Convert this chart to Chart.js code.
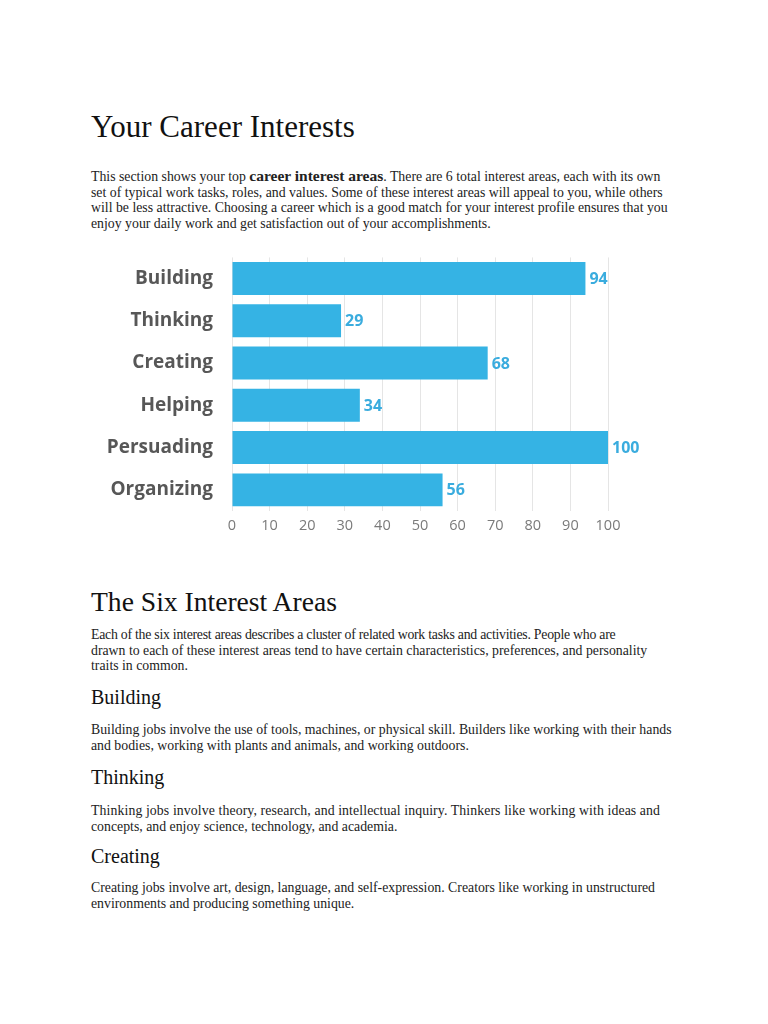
<!DOCTYPE html>
<html>
<head>
<meta charset="utf-8">
<script src="https://cdn.jsdelivr.net/npm/chart.js@4/dist/chart.umd.min.js"></script>
<style>
  body { margin: 0; background: #fff; width: 768px; height: 1024px; position: relative; overflow: hidden; }
  .t { position: absolute; left: 91px; font-family: "Liberation Serif", "Times New Roman", serif; color: #111; white-space: nowrap; }
  .h1 { font-size: 31px; line-height: 34px; }
  .h1.s { font-size: 27.6px; }
  .h2 { font-size: 20px; line-height: 24px; }
  .p { font-size: 13.8px; line-height: 15.6px; color: #222; }
  .p b { font-size: 15.5px; }
  #wrap { position: absolute; left: 100px; top: 235px; width: 560px; height: 310px; }
</style>
</head>
<body>
<div class="t h1" style="top:110px">Your Career Interests</div>
<div class="t p" style="top:168px">This section shows your top <b>career interest areas</b>. There are 6 total interest areas, each with its own<br>set of typical work tasks, roles, and values. Some of these interest areas will appeal to you, while others<br>will be less attractive. Choosing a career which is a good match for your interest profile ensures that you<br>enjoy your daily work and get satisfaction out of your accomplishments.</div>

<div id="wrap"><canvas id="myChart"></canvas></div>

<div class="t h1 s" style="top:585px">The Six Interest Areas</div>
<div class="t p" style="top:627px"><span style="letter-spacing:-0.25px">Each of the six interest areas describes a cluster of related work tasks and activities. People who are</span><br>drawn to each of these interest areas tend to have certain characteristics, preferences, and personality<br>traits in common.</div>
<div class="t h2" style="top:685px">Building</div>
<div class="t p" style="top:722px">Building jobs involve the use of tools, machines, or physical skill. Builders like working with their hands<br>and bodies, working with plants and animals, and working outdoors.</div>
<div class="t h2" style="top:765px">Thinking</div>
<div class="t p" style="top:803px"><span style="letter-spacing:0.1px">Thinking jobs involve theory, research, and intellectual inquiry. Thinkers like working with ideas and</span><br>concepts, and enjoy science, technology, and academia.</div>
<div class="t h2" style="top:844px">Creating</div>
<div class="t p" style="top:880px">Creating jobs involve art, design, language, and self-expression. Creators like working in unstructured<br>environments and producing something unique.</div>

<script>
const ctx = document.getElementById("myChart").getContext('2d')

const labels = ["Building", "Thinking", "Creating", "Helping", "Persuading", "Organizing"]
const scores = [94, 29, 68, 34, 100, 56]
const xTicks = [0, 10, 20, 30, 40, 50, 60, 70, 80, 90, 100]

const barBlue = 'rgb(53, 179, 228)'

const data = {
    labels,
    datasets: [{
        data: scores,
        backgroundColor: barBlue,
        borderWidth: 0,
        barPercentage: 0.78,
        categoryPercentage: 1
    }]
}

// writes the score just past the end of each bar
const valueLabels = {
    id: 'value_labels',
    afterDatasetsDraw: (chart) => {
        const c = chart.ctx
        const meta = chart.getDatasetMeta(0)
        c.save()
        c.fillStyle = 'rgb(58, 172, 222)'
        c.font = 'bold 16px "Open Sans"'
        c.textBaseline = 'middle'
        meta.data.forEach((bar, i) => {
            c.fillText(scores[i], bar.x + 4, bar.y + 1)
        })
        c.restore()
    }
}

const option = {
    responsive: true,
    maintainAspectRatio: false,
    animation: false,
    indexAxis: 'y',
    layout: { padding: { top: 12, right: 52, bottom: 4, left: 0 } },
    plugins: {
        legend: { display: false },
        tooltip: { enabled: false }
    },
    scales: {
        x: {
            min: 0,
            max: 100,
            afterBuildTicks: (axis) => { axis.ticks = xTicks.map(v => ({ value: v })) },
            afterFit: (axis) => { axis.height = 30 },
            border: { display: false },
            grid: {
                color: 'rgba(0, 0, 0, 0.1)',
                drawTicks: false
            },
            ticks: {
                color: '#7a7a7a',
                padding: 6,
                font: { family: 'Open Sans', size: 14.5 }
            }
        },
        y: {
            afterFit: (axis) => { axis.width = 132 },
            border: { display: false },
            grid: { display: false },
            ticks: {
                color: '#575757',
                padding: 11,
                font: { family: 'Open Sans', size: 19, weight: 'bold' }
            }
        }
    }
}

const config = {
    type: 'bar',
    data: data,
    options: option,
    plugins: [valueLabels],
}

const myChart = new Chart(ctx, config)
</script>
</body>
</html>
